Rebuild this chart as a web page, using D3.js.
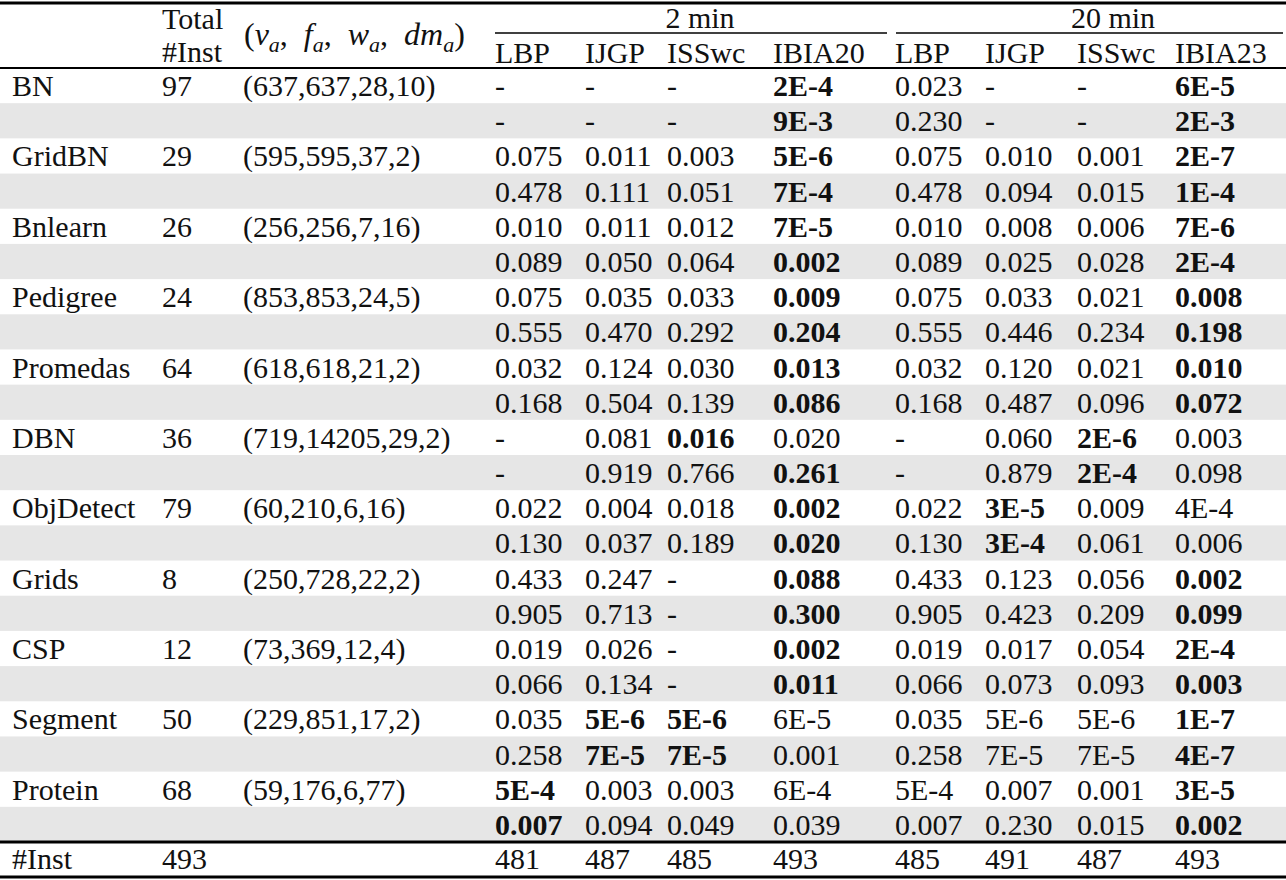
<!DOCTYPE html>
<html>
<head>
<meta charset="utf-8">
<script src="https://cdn.jsdelivr.net/npm/d3@7"></script>
<style>
  body { margin: 0; background: #fff; }
  text { font-family: "Liberation Serif", "DejaVu Serif", serif; fill: #111; }
</style>
</head>
<body>
<svg id="SVG_CONTAINER" width="1286" height="880"></svg>
<script>
// data: "*" prefix = bold
const problems = ["BN", "GridBN", "Bnlearn", "Pedigree", "Promedas", "DBN", "ObjDetect", "Grids", "CSP", "Segment", "Protein"];
const totalInst = ["97", "29", "26", "24", "64", "36", "79", "8", "12", "50", "68"];
const stats = ["(637,637,28,10)", "(595,595,37,2)", "(256,256,7,16)", "(853,853,24,5)", "(618,618,21,2)",
    "(719,14205,29,2)", "(60,210,6,16)", "(250,728,22,2)", "(73,369,12,4)", "(229,851,17,2)", "(59,176,6,77)"];
const methods = ["LBP", "IJGP", "ISSwc", "IBIA20", "LBP", "IJGP", "ISSwc", "IBIA23"];
const values = [
    ["-", "-", "-", "*2E-4", "0.023", "-", "-", "*6E-5"],
    ["-", "-", "-", "*9E-3", "0.230", "-", "-", "*2E-3"],
    ["0.075", "0.011", "0.003", "*5E-6", "0.075", "0.010", "0.001", "*2E-7"],
    ["0.478", "0.111", "0.051", "*7E-4", "0.478", "0.094", "0.015", "*1E-4"],
    ["0.010", "0.011", "0.012", "*7E-5", "0.010", "0.008", "0.006", "*7E-6"],
    ["0.089", "0.050", "0.064", "*0.002", "0.089", "0.025", "0.028", "*2E-4"],
    ["0.075", "0.035", "0.033", "*0.009", "0.075", "0.033", "0.021", "*0.008"],
    ["0.555", "0.470", "0.292", "*0.204", "0.555", "0.446", "0.234", "*0.198"],
    ["0.032", "0.124", "0.030", "*0.013", "0.032", "0.120", "0.021", "*0.010"],
    ["0.168", "0.504", "0.139", "*0.086", "0.168", "0.487", "0.096", "*0.072"],
    ["-", "0.081", "*0.016", "0.020", "-", "0.060", "*2E-6", "0.003"],
    ["-", "0.919", "0.766", "*0.261", "-", "0.879", "*2E-4", "0.098"],
    ["0.022", "0.004", "0.018", "*0.002", "0.022", "*3E-5", "0.009", "4E-4"],
    ["0.130", "0.037", "0.189", "*0.020", "0.130", "*3E-4", "0.061", "0.006"],
    ["0.433", "0.247", "-", "*0.088", "0.433", "0.123", "0.056", "*0.002"],
    ["0.905", "0.713", "-", "*0.300", "0.905", "0.423", "0.209", "*0.099"],
    ["0.019", "0.026", "-", "*0.002", "0.019", "0.017", "0.054", "*2E-4"],
    ["0.066", "0.134", "-", "*0.011", "0.066", "0.073", "0.093", "*0.003"],
    ["0.035", "*5E-6", "*5E-6", "6E-5", "0.035", "5E-6", "5E-6", "*1E-7"],
    ["0.258", "*7E-5", "*7E-5", "0.001", "0.258", "7E-5", "7E-5", "*4E-7"],
    ["*5E-4", "0.003", "0.003", "6E-4", "5E-4", "0.007", "0.001", "*3E-5"],
    ["*0.007", "0.094", "0.049", "0.039", "0.007", "0.230", "0.015", "*0.002"]
];
const instCounts = ["481", "487", "485", "493", "485", "491", "487", "493"];

const W = 1286, FS = 30;
const svg = d3.select("#SVG_CONTAINER");

// row scale for data rows
const y = d3.scaleBand().domain(d3.range(values.length)).range([68, 842]);
// column x positions (left aligned)
const colX = d3.scaleOrdinal().domain(d3.range(8)).range([495, 585, 667, 773, 895, 985, 1077, 1175]);

// grey bands
svg.selectAll("rect.band")
    .data(d3.range(values.length).filter(i => i % 2 === 1))
    .enter().append("rect")
        .attr("x", 0).attr("y", i => y(i))
        .attr("width", W).attr("height", y.bandwidth())
        .attr("fill", "#e6e6e6");

// rules
const rule = (y0, sw, x0 = 0, x1 = W) => svg.append("line")
    .attr("x1", x0).attr("x2", x1).attr("y1", y0).attr("y2", y0)
    .attr("stroke", "#000").attr("stroke-width", sw);
rule(3, 3); rule(68, 2); rule(842, 3); rule(877, 3);
rule(33, 1.5, 495, 887); rule(33, 1.5, 896, 1283);

const txt = (x, yy, s, anchor = "start") => svg.append("text")
    .attr("x", x).attr("y", yy).attr("dy", "0.35em")
    .attr("text-anchor", anchor).style("font-size", FS + "px")
    .style("font-weight", s.startsWith("*") ? "bold" : "normal")
    .text(s.replace("*", ""));

// header
txt(162, 18, "Total");
txt(162, 51, "#Inst");
txt(700, 17, "2 min", "middle");
txt(1113, 17, "20 min", "middle");
methods.forEach((m, i) => txt(colX(i), 52, m));

const mh = svg.append("text").attr("x", 244).attr("y", 34).attr("dy", "0.35em")
    .style("font-size", "32px");
mh.append("tspan").text("(");
[["v", "a"], ["f", "a"], ["w", "a"], ["dm", "a"]].forEach((p, i) => {
    mh.append("tspan").style("font-style", "italic").text(p[0]);
    mh.append("tspan").style("font-style", "italic").style("font-size", "22px").attr("dy", 7).text(p[1]);
    mh.append("tspan").attr("dy", -7).text(i < 3 ? ",\u2002" : ")");
});

// body
problems.forEach((p, g) => {
    const cy = y(g * 2) + y.bandwidth() / 2;
    txt(12, cy, p);
    txt(162, cy, totalInst[g]);
    txt(243, cy, stats[g]);
});
values.forEach((row, r) => {
    const cy = y(r) + y.bandwidth() / 2;
    row.forEach((v, c) => txt(colX(c), cy, v));
});

// totals
txt(12, 858, "#Inst");
txt(162, 858, "493");
instCounts.forEach((v, c) => txt(colX(c), 858, v));
</script>
</body>
</html>
